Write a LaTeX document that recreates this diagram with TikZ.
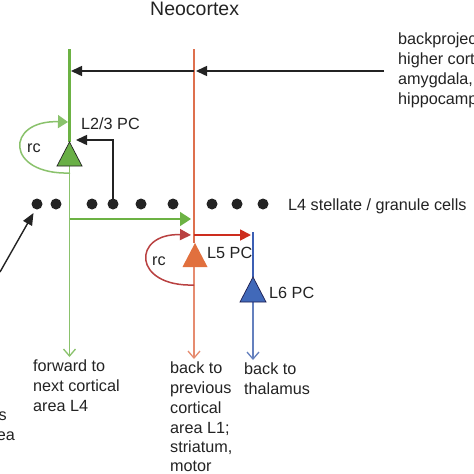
\documentclass[tikz,border=0pt]{standalone}
\usepackage{fontspec}
\setmainfont{Liberation Sans}
\usetikzlibrary{arrows.meta}
\definecolor{gthick}{RGB}{108,178,68}
\definecolor{gthin}{RGB}{138,194,108}
\definecolor{othick}{RGB}{222,112,78}
\definecolor{othin}{RGB}{230,140,112}
\definecolor{redarr}{RGB}{205,45,30}
\definecolor{rcred}{RGB}{185,65,65}
\definecolor{bthick}{RGB}{60,95,180}
\definecolor{bthin}{RGB}{100,128,190}
\definecolor{ink}{RGB}{35,35,35}
\definecolor{tri5}{RGB}{225,112,62}
\definecolor{tri23}{RGB}{105,175,70}
\definecolor{tri6}{RGB}{65,105,185}
\begin{document}
\begin{tikzpicture}[x=1pt,y=-1pt,
  lbl/.style={font=\fontsize{16.2}{20}\selectfont, text=ink, inner sep=0pt, anchor=base west},
  lble/.style={lbl, anchor=base east},
  dot/.style={circle, fill=ink, inner sep=0pt, minimum size=11pt},
  blk/.style={draw=ink, line width=1.5pt, -{Triangle[length=11pt,width=10pt]}},
  thickax/.style={line width=2.6pt},
  thinax/.style={line width=1.3pt, -{Straight Barb[length=7pt,width=12pt]}},
]
\useasboundingbox[fill=white] (0,0) rectangle (474,474);

% title
\node[lbl, font=\fontsize{19.5}{23}\selectfont] (title) at (150,15) {Neocortex};

% right text block (cut off at the right edge, as in the reference)
\node[lbl] (bp1) at (398,44) {backprojec};
\node[lbl] (bp2) at (398,64) {higher cort};
\node[lbl] (bp3) at (398,84) {amygdala,};
\node[lbl] (bp4) at (398,104) {hippocamp};

% coordinates
\coordinate (gtop) at (69.5,49);
\coordinate (otop) at (194,49);
\coordinate (bpstart) at (384,71);
\coordinate (oback) at (196,71);
\coordinate (oline71) at (194,71);
\coordinate (gback) at (71,71);

% vertical axons
\draw[gthick, thickax] (gtop) -- (69.5,142);
\draw[othick, thickax] (otop) -- (194,243);
\draw[bthick, thickax] (253,232) -- (253,277);
\draw[gthin, thinax] (69.5,166) -- (69.5,357);
\draw[othin, thinax] (194,267) -- (194,359);
\draw[bthin, thinax] (253,302) -- (253,360);

% backprojection arrow
\draw[blk] (bpstart) -- (oback);
\draw[blk] (oline71) -- (gback);

% triangles
\fill[tri23, draw=ink, line width=0.7pt] (69.5,142) -- (82,166) -- (57,166) -- cycle;
\fill[tri5] (195,243) -- (207.5,267) -- (182.5,267) -- cycle;
\fill[tri6, draw=ink!80!blue, line width=0.7pt] (253,277) -- (266,302) -- (240,302) -- cycle;

% labels
\node[lbl] (l23) at (81,129) {L2/3 PC};
\node[lbl] (l5) at (207,258) {L5 PC};
\node[lbl] (l6) at (269,298) {L6 PC};
\node[lbl] (rc1) at (27,152) {rc};
\node[lbl] (rc2) at (152,265) {rc};

% recurrent loops
\draw[gthin, line width=1.5pt, -{Triangle[length=10pt,width=13pt]}]
  (70,173) .. controls (5,175) and (5,120) .. (68,122);
\draw[rcred, line width=1.5pt, -{Triangle[length=11pt,width=11pt]}]
  (194,285) .. controls (132,287) and (132,233) .. (191,235);

% L4 dots
\foreach \x [count=\i] in {37,56,92,113,141,173,212,237,263}
  \node[dot] (d\i) at (\x,204) {};
\node[lbl] (l4) at (288,210) {L4 stellate / granule cells};

% L4 -> L2/3
\coordinate (l23in) at (76,140);
\draw[blk] (d4.center) |- (l23in);

% green forward to L5
\draw[gthick, line width=1.6pt, -{Triangle[length=11pt,width=14pt]}] (69.5,219) -- (191,219);

% red L5 -> L6
\draw[redarr, line width=1.8pt, -{Triangle[length=11pt,width=11pt]}] (194,235) -- (251,235);

% left input arrow
\coordinate (lin) at (0,272);
\draw[draw=ink, line width=1.4pt, -{Triangle[length=12pt,width=10pt]}] (lin) -- (33.5,213);

% bottom texts
\node[lbl] (f1) at (33,371) {forward to};
\node[lbl] (f2) at (33,391) {next cortical};
\node[lbl] (f3) at (33,411) {area L4};

\node[lbl] (b1) at (170,373) {back to};
\node[lbl] (b2) at (170,393) {previous};
\node[lbl] (b3) at (170,413) {cortical};
\node[lbl] (b4) at (170,433) {area L1;};
\node[lbl] (b5) at (170,452) {striatum,};
\node[lbl] (b6) at (170,471) {motor};

\node[lbl] (t1) at (244,374) {back to};
\node[lbl] (t2) at (244,394) {thalamus};

\node[lble] (s1) at (7,420) {s};
\node[lble] (s2) at (15,440) {ea};
\end{tikzpicture}
\end{document}
